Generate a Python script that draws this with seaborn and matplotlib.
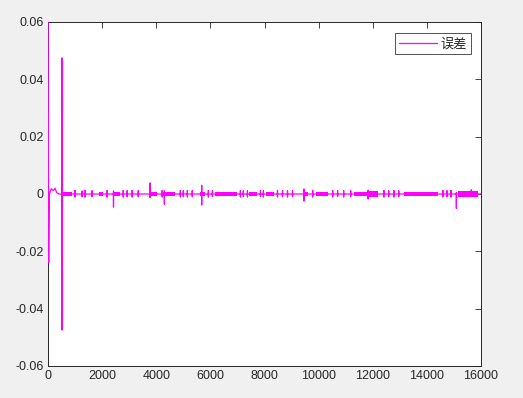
import numpy as np
import pandas as pd
import matplotlib
matplotlib.use("Agg")
import matplotlib.pyplot as plt
import seaborn as sns

# ---- data ----
# start of the error trace
start_x = [0, 25, 50, 120, 200, 260, 320, 400]
start_y = [0.07, -0.024, 0.0, 0.0018, 0.0012, 0.002, 0.0005, 0.0]

# isolated spikes: position, upper value, lower value
spike_x = [520, 1000, 1260, 1370, 1630, 2185, 2420, 2780, 2925, 3110, 3335,
           3770, 4220, 4300, 4890, 5000, 5150, 5330, 5680, 5925, 6075,
           7110, 7220, 7370, 7850, 7960, 8480, 8665, 8850, 9035, 9460,
           9780, 10520, 10700, 10925, 11185, 11830, 12410, 12590, 12780,
           12960, 14590, 14740, 14890, 15090, 15640]
spike_up = [0.0474, 0.0012, 0.0010, 0.0012, 0.0011, 0.0012, 0.0010, 0.0012,
            0.0011, 0.0012, 0.0011, 0.0038, 0.0012, 0.0010, 0.0012, 0.0011,
            0.0012, 0.0011, 0.0030, 0.0012, 0.0011, 0.0012, 0.0011, 0.0012,
            0.0011, 0.0012, 0.0012, 0.0011, 0.0012, 0.0011, 0.0017, 0.0012,
            0.0012, 0.0011, 0.0012, 0.0011, 0.0013, 0.0012, 0.0011, 0.0012,
            0.0011, 0.0012, 0.0011, 0.0012, 0.0005, 0.0014]
spike_down = [0.0474, 0.0010, 0.0009, 0.0010, 0.0009, 0.0010, 0.0045, 0.0010,
              0.0009, 0.0010, 0.0009, 0.0012, 0.0010, 0.0035, 0.0010, 0.0009,
              0.0010, 0.0009, 0.0038, 0.0010, 0.0009, 0.0010, 0.0009, 0.0010,
              0.0009, 0.0010, 0.0010, 0.0009, 0.0010, 0.0009, 0.0024, 0.0010,
              0.0010, 0.0009, 0.0010, 0.0009, 0.0017, 0.0010, 0.0009, 0.0010,
              0.0009, 0.0010, 0.0009, 0.0010, 0.0050, 0.0008]

# dense oscillation bands: start, end, half height
band_start = [555, 1890, 2445, 3780, 4260, 5630, 6185, 7410, 8040, 9410,
              9890, 11295, 11815, 13150, 15150]
band_end = [890, 2035, 2665, 4035, 4705, 5815, 7000, 7740, 8335, 9590,
            10335, 11815, 12185, 14410, 15890]
band_amp = [0.0008, 0.0006, 0.0008, 0.0007, 0.0008, 0.0007, 0.0007, 0.0006,
            0.0008, 0.0008, 0.0007, 0.0007, 0.0009, 0.0008, 0.0009]

end_x = 16000

x_ticks = [0, 2000, 4000, 6000, 8000, 10000, 12000, 14000, 16000]
y_ticks = [-0.06, -0.04, -0.02, 0, 0.02, 0.04, 0.06]
y_labels = ["-0.06", "-0.04", "-0.02", "0", "0.02", "0.04", "0.06"]

# ---- build trace table ----
xs = list(start_x)
ys = list(start_y)
for x, u, d in sorted(zip(spike_x, spike_up, spike_down)):
    xs += [x, x, x, x]
    ys += [0.0, u, -d, 0.0]
xs.append(end_x)
ys.append(0.0)
df = pd.DataFrame({"x": xs, "y": ys})

# ---- style ----
sns.set_style("white")
plt.rcParams['font.family'] = ['Liberation Sans', 'Noto Sans CJK SC', 'DejaVu Sans']
plt.rcParams['axes.unicode_minus'] = False

mag = '#ff00ff'
dark = '#262626'

fig = plt.figure(figsize=(5.23, 3.98), dpi=100, facecolor='#f0f0f0')
ax = fig.add_axes([48/523, 32/398, 433/523, 344/398])
ax.set_facecolor('white')

sns.lineplot(data=df, x="x", y="y", sort=False, estimator=None,
             color=mag, lw=0.9, label='误差', ax=ax, zorder=3)
for s, e, a in zip(band_start, band_end, band_amp):
    ax.fill_between([s, e], [-a, -a], [a, a], color=mag, lw=0, zorder=3)

ax.set_xlim(0, 16000)
ax.set_ylim(-0.06, 0.06)
ax.set_xticks(x_ticks)
ax.set_xticklabels([str(t) for t in x_ticks])
ax.set_yticks(y_ticks)
ax.set_yticklabels(y_labels)
ax.set_xlabel("")
ax.set_ylabel("")
ax.tick_params(direction='in', length=4, width=0.6, colors=dark,
               labelsize=9, top=True, right=True, pad=3)
for sp in ax.spines.values():
    sp.set_visible(True)
    sp.set_color(dark)
    sp.set_linewidth(0.7)
    sp.set_zorder(2)

leg = ax.legend(loc='upper right', bbox_to_anchor=(0.9775, 0.967),
                frameon=True, fancybox=False, fontsize=9.5,
                handlelength=2.9, borderpad=0.3, handletextpad=0.3,
                borderaxespad=0.0)
leg.get_frame().set_edgecolor(dark)
leg.get_frame().set_linewidth(0.7)
leg.set_zorder(5)
for t in leg.get_texts():
    t.set_color(dark)
    t.set_fontfamily(['Noto Sans CJK SC', 'DejaVu Sans'])

fig.savefig("out.png", dpi=100, facecolor=fig.get_facecolor())
